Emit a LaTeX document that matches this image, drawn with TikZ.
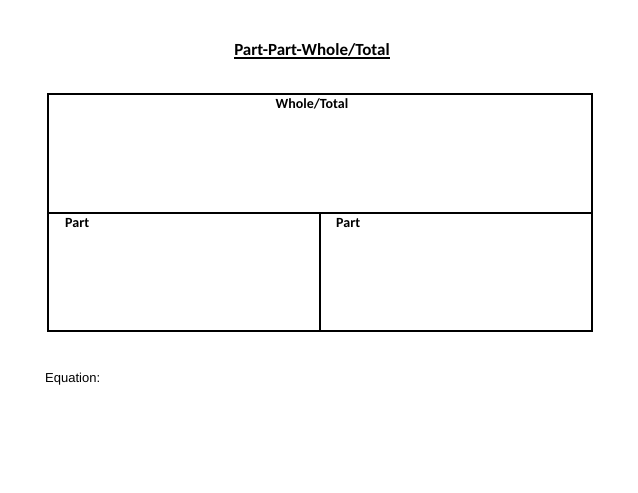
\documentclass[tikz,border=0pt]{standalone}
\usepackage{fontspec}
\setmainfont{Carlito}
\newfontfamily\arialf{Liberation Sans}
\begin{document}
\begin{tikzpicture}[x=1pt,y=-1pt,
  frame/.style={draw=black,line width=1.6pt},
  lbl/.style={font=\fontsize{14}{16}\selectfont\bfseries,inner sep=0pt},
  ttl/.style={font=\fontsize{17}{20}\selectfont\bfseries,inner sep=0pt}]
\useasboundingbox (0,0) rectangle (638,493);
\node[ttl,anchor=base] (title) at (312,55) {Part-Part-Whole/Total};
\draw[line width=1.1pt] ([yshift=-3pt]title.base west) -- ([yshift=-3pt]title.base east);
\coordinate (tl) at (47,93);
\node[frame,rectangle,minimum width=544pt,minimum height=119pt,anchor=north west,inner sep=0pt] (whole) at (tl) {};
\node[frame,rectangle,minimum width=272pt,minimum height=118pt,anchor=north west,inner sep=0pt] (partA) at (47,212) {};
\node[frame,rectangle,minimum width=272pt,minimum height=118pt,anchor=north west,inner sep=0pt] (partB) at (319,212) {};
\node[lbl,anchor=base] (wl) at (312,108) {Whole/Total};
\node[lbl,anchor=base west] (pa) at (65,227) {Part};
\node[lbl,anchor=base west] (pb) at (336,227) {Part};
\node[font=\arialf\fontsize{13}{15}\selectfont,anchor=base west,inner sep=0pt] (eq) at (45,382) {Equation:};
\end{tikzpicture}
\end{document}
